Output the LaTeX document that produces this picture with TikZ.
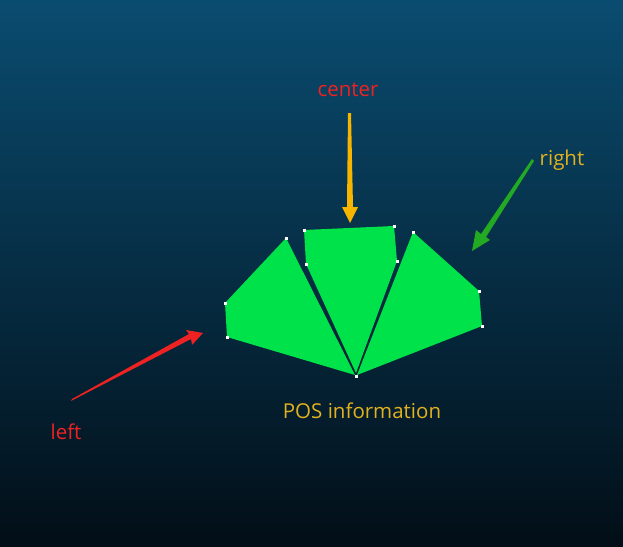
\documentclass[tikz,border=0pt]{standalone}
\usepackage{fontspec}
\setmainfont{Open Sans}
\usetikzlibrary{arrows.meta}
\definecolor{bgtop}{HTML}{0A4C70}
\definecolor{bgbot}{HTML}{020E17}
\definecolor{leaf}{HTML}{00E24A}
\definecolor{cred}{HTML}{EE2222}
\definecolor{cgold}{HTML}{E2B21E}
\definecolor{corange}{HTML}{F7B500}
\definecolor{cgreen}{HTML}{22AA22}
\tikzset{
  sector/.style={fill=leaf,draw=none},
  pt/.style={fill=white,inner sep=0pt,minimum size=3pt,draw=none},
  lbl/.style={font=\fontsize{20.5}{24}\selectfont},
}
\begin{document}
\begin{tikzpicture}[x=1pt,y=-1pt]
\shade[top color=bgtop,bottom color=bgbot] (0,0) rectangle (623,546);
\useasboundingbox (0,0) rectangle (623,546);
\fill[sector] (225,303) -- (286,238) -- (355,375) -- (227,337) -- cycle;
\fill[sector] (304,230) -- (394,226) -- (397,261) -- (356,373) -- (306,264) -- cycle;
\fill[sector] (413,232) -- (479,291) -- (482,326) -- (357,375) -- cycle;
\foreach \p/\q in {225/303,286/238,227/337,356/376,304/230,394/226,397/261,306/264,413/232,479/291,482/326}
  \node[pt] at (\p,\q) {};
\fill[corange] (348,113) -- (351,113) -- (353,207) -- (358,207) -- (350,223) -- (342,207) -- (347,207) -- cycle;
\fill[cgreen] (532,159) -- (534,161) -- (486,237) -- (490,240) -- (472,251) -- (476,230) -- (481,234) -- cycle;
\fill[cred] (71,401) -- (72,399) -- (189,334) -- (186,330) -- (203,333) -- (192,345) -- (191,339) -- cycle;
\node[lbl,text=cred] (center) at (348,90) {center};
\node[lbl,text=cgold] (right) at (562,160) {right};
\node[lbl,text=cred] (left) at (66,432) {left};
\node[lbl,text=cgold] (pos) at (362,411) {POS information};
\end{tikzpicture}
\end{document}
